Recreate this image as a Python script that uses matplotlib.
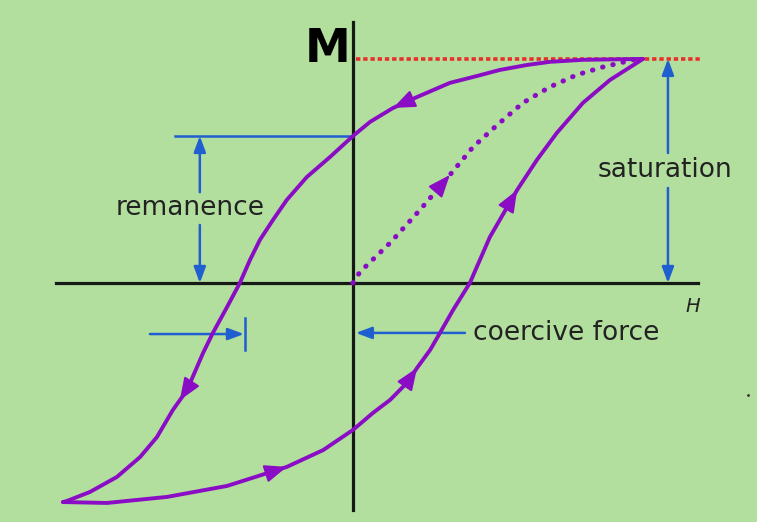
import matplotlib
matplotlib.use('Agg')
import matplotlib.pyplot as plt
import numpy as np

# hysteresis loop, H and M normalised to saturation
# descending branch: from +saturation back to -saturation
down_H = [1.0, 0.793, 0.679, 0.6, 0.507, 0.428, 0.334, 0.221, 0.138, 0.059,
          0.0, -0.079, -0.159, -0.228, -0.276, -0.321, -0.355, -0.390, -0.434,
          -0.483, -0.517, -0.572, -0.621, -0.676, -0.734, -0.814, -0.907,
          -0.986, -1.0]
down_M = [1.0, 0.996, 0.987, 0.973, 0.951, 0.924, 0.893, 0.830, 0.781, 0.719,
          0.656, 0.5625, 0.473, 0.371, 0.281, 0.192, 0.103, 0.0, -0.107,
          -0.223, -0.313, -0.478, -0.567, -0.688, -0.777, -0.866, -0.933,
          -0.973, -0.978]
# ascending branch: from -saturation to +saturation
up_H = [-1.0, -0.848, -0.641, -0.434, -0.228, -0.103, 0.0, 0.069, 0.128,
        0.186, 0.221, 0.266, 0.3, 0.345, 0.403, 0.472, 0.566, 0.634, 0.703,
        0.793, 0.886, 1.0]
up_M = [-0.978, -0.982, -0.955, -0.906, -0.821, -0.746, -0.656, -0.580,
        -0.522, -0.446, -0.379, -0.299, -0.223, -0.121, 0.0, 0.205, 0.415,
        0.549, 0.670, 0.804, 0.906, 1.0]
# initial magnetisation curve (dotted)
init_H = [0.0, 0.024, 0.128, 0.231, 0.334, 0.414, 0.497, 0.586, 0.679,
          0.772, 0.862, 0.966, 1.0]
init_M = [0.0, 0.049, 0.179, 0.326, 0.482, 0.607, 0.705, 0.804, 0.875,
          0.929, 0.964, 0.996, 1.0]

saturation = 1.0
remanence = 0.656
coercivity = -0.386

# where the direction arrows sit on each curve (H values)
down_arrows = [0.138, -0.597]
up_arrows = [-0.228, 0.221, 0.566]
init_arrows = [0.334]

bg = '#b2df9e'
purple = '#8a0cc4'
blue = '#1f5fd0'
dark = '#161a16'

fig = plt.figure(figsize=(7.57, 5.22), dpi=100, facecolor=bg)
ax = fig.add_axes([0, 0, 1, 1])
ax.set_facecolor(bg)
ax.set_xlim(-1.217, 1.393)
ax.set_ylim(-1.067, 1.263)
ax.axis('off')

# axes
ax.plot([0, 0], [-1.013, 1.165], color=dark, lw=2.3, zorder=2)
ax.plot([-1.024, 1.19], [0, 0], color=dark, lw=2.3, zorder=2)

# saturation level
ax.plot([0.01, 1.197], [saturation, saturation], color='#e8302a', lw=2.6,
        ls=(0, (1.2, 0.8)), zorder=3)

# loop
ax.plot(down_H, down_M, color=purple, lw=2.8, zorder=4, solid_capstyle='round',
        solid_joinstyle='round')
ax.plot(up_H, up_M, color=purple, lw=2.8, zorder=4, solid_capstyle='round',
        solid_joinstyle='round')
ax.plot(init_H, init_M, color=purple, lw=3.6, ls=(0, (0.1, 2.0)),
        dash_capstyle='round', zorder=4)


def curve_arrows(H, M, where, sign):
    H = np.asarray(H)
    M = np.asarray(M)
    order = np.argsort(H)
    for h in where:
        h0 = h - sign * 0.03
        m = np.interp(h, H[order], M[order])
        m0 = np.interp(h0, H[order], M[order])
        ax.annotate('', xy=(h, m), xytext=(h0, m0), zorder=5,
                    arrowprops=dict(arrowstyle='-|>,head_length=0.8,head_width=0.32',
                                    color=purple, lw=1.5, mutation_scale=17,
                                    shrinkA=0, shrinkB=0))


curve_arrows(down_H, down_M, down_arrows, -1)
curve_arrows(up_H, up_M, up_arrows, 1)
curve_arrows(init_H, init_M, init_arrows, 1)

arrow_kw = dict(arrowstyle='-|>,head_length=0.8,head_width=0.3', color=blue,
                lw=1.8, mutation_scale=12, shrinkA=0, shrinkB=0)
text_kw = dict(fontsize=19, color='#222222')

# remanence
ax.plot([-0.614, 0], [remanence, remanence], color=blue, lw=1.8, zorder=3)
ax.annotate('', xy=(-0.528, remanence), xytext=(-0.528, 0.405), arrowprops=arrow_kw)
ax.annotate('', xy=(-0.528, 0.0), xytext=(-0.528, 0.259), arrowprops=arrow_kw)
ax.text(-0.562, 0.335, 'remanence', ha='center', va='center', **text_kw)

# saturation
ax.annotate('', xy=(1.086, saturation), xytext=(1.086, 0.58), arrowprops=arrow_kw)
ax.annotate('', xy=(1.086, 0.0), xytext=(1.086, 0.424), arrowprops=arrow_kw)
ax.text(1.076, 0.504, 'saturation', ha='center', va='center', **text_kw)

# coercive force
ax.annotate('', xy=(coercivity + 0.01, -0.228), xytext=(-0.70, -0.228), arrowprops=arrow_kw)
ax.plot([coercivity + 0.012, coercivity + 0.012], [-0.156, -0.299], color=blue, lw=1.8)
ax.annotate('', xy=(0.01, -0.223), xytext=(0.386, -0.223), arrowprops=arrow_kw)
ax.text(0.414, -0.223, 'coercive force', ha='left', va='center', **text_kw)

# axis labels
ax.text(-0.086, 1.04, 'M', ha='center', va='center', fontsize=33,
        fontweight='bold', color='black')
ax.text(1.172, -0.107, 'H', ha='center', va='center', fontsize=14,
        style='italic', color='#222222')
ax.plot([1.362], [-0.5], marker='.', color='#333333', markersize=2)

fig.savefig('out.png', dpi=100, facecolor=bg)
